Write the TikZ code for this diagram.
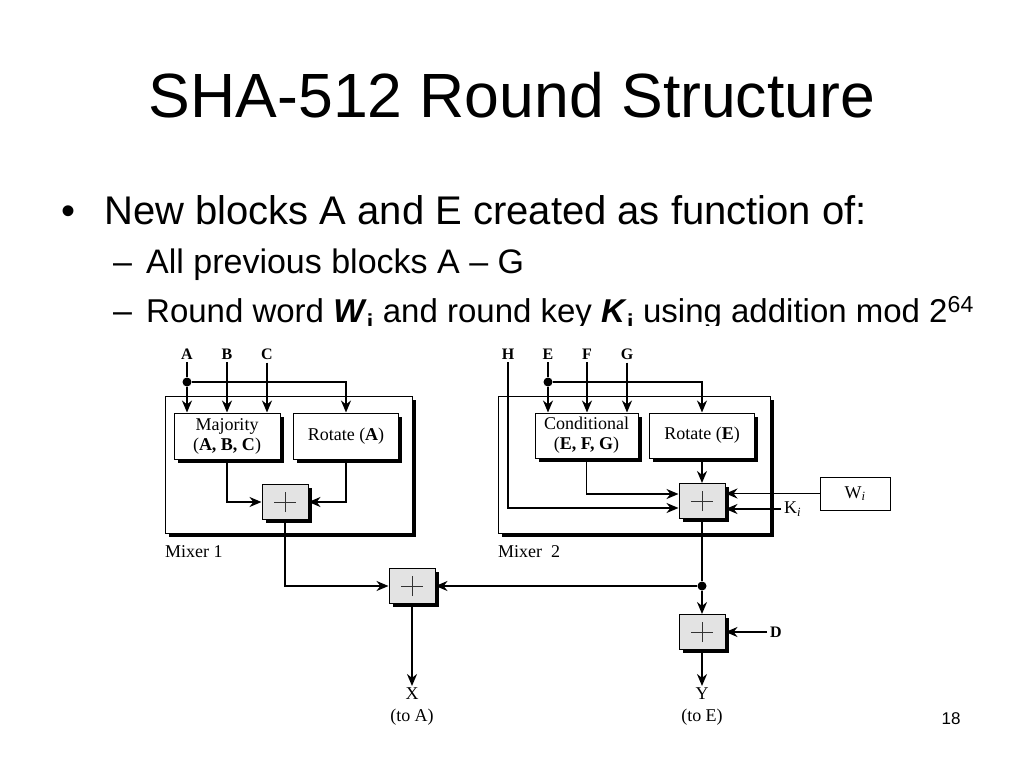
\documentclass[tikz,border=0pt]{standalone}
\usepackage{fontspec}
\setmainfont{Liberation Sans}
\newfontfamily\diagfont{Liberation Serif}
\usetikzlibrary{arrows.meta,shadows}

\newcommand{\pxfont}[2]{\fontsize{#1}{#2}\selectfont}

\begin{document}
\begin{tikzpicture}[x=1pt, y=-1pt,
    every node/.style={inner sep=0pt},
    arr/.style={-{Stealth[length=12pt,width=10pt]}, line width=1.7pt},
    wire/.style={line width=1.7pt},
    boxshadow/.style={drop shadow={shadow xshift=3.5pt, shadow yshift=-3.5pt, fill=black, opacity=1}},
    fbox/.style={draw, line width=1pt, fill=white, boxshadow, align=center, font=\diagfont\pxfont{18}{20}},
    addbox/.style={draw, line width=1pt, fill=gray!22, boxshadow, minimum width=46pt, minimum height=35pt,
      path picture={\draw[line width=0.7pt, black!80]
        ([xshift=-11pt]path picture bounding box.center) -- ([xshift=11pt]path picture bounding box.center)
        ([yshift=-10pt]path picture bounding box.center) -- ([yshift=10pt]path picture bounding box.center);}},
    inlbl/.style={font=\diagfont\bfseries\pxfont{16}{18}, inner sep=3pt},
    dlbl/.style={font=\diagfont\pxfont{18}{22}, align=center, inner sep=2pt},
    dot/.style={circle, fill=black, minimum size=9pt}]
  \useasboundingbox (0,0) rectangle (1024,768);

  % Slide title and bullets
  \node[anchor=base, font=\pxfont{62.5}{70}] (title) at (512,117) {SHA-512 Round Structure};
  \node[anchor=base, font=\pxfont{40}{48}] (bul) at (69,224) {•};
  \node[anchor=base west, font=\pxfont{40}{48}] (line1) at (104,224) {New blocks A and E created as function of:};
  \node[anchor=base west, font=\pxfont{34}{40}] (dash1) at (113,273) {–};
  \node[anchor=base west, font=\pxfont{34}{40}] (line2) at (146,273) {All previous blocks A – G};
  \node[anchor=base west, font=\pxfont{34}{40}] (dash2) at (113,322) {–};
  \node[anchor=base west, font=\pxfont{33}{40}] (line3) at (146,322)
    {Round word \textbf{\textit{W}}\textsubscript{\textbf{i}} and round key \textbf{\textit{K}}\textsubscript{\textbf{i}} using addition mod 2\textsuperscript{64}};
  \node[anchor=base, font=\pxfont{17}{20}] (pnum) at (951,724) {18};

  % The figure covers the bottom of the last line
  \fill[white] (140,326) rectangle (912,745);

  % Mixer frames
  \node[fbox, minimum width=247pt, minimum height=137pt] (mix1) at (288.5,464.5) {};
  \node[fbox, minimum width=272pt, minimum height=137pt] (mix2) at (634,464.5) {};
  \node[dlbl, anchor=west] (mix1lbl) at (163,552) {Mixer 1};
  \node[dlbl, anchor=west] (mix2lbl) at (496,552) {Mixer\ \ 2};

  % Function boxes
  \node[fbox, minimum width=106pt, minimum height=46pt] (maj) at (227,436) {Majority\\(\textbf{A, B, C})};
  \node[fbox, minimum width=105pt, minimum height=46pt] (rota) at (346,436) {Rotate (\textbf{A})};
  \node[fbox, minimum width=103pt, minimum height=45pt] (cond) at (586.5,435.5) {Conditional\\(\textbf{E, F, G})};
  \node[fbox, minimum width=105pt, minimum height=45pt] (rote) at (702,435.5) {Rotate (\textbf{E})};
  \node[draw, line width=1pt, minimum width=70pt, minimum height=33pt, font=\diagfont\pxfont{18}{20}] (wi) at (855,493.5) {W\textsubscript{\textit{i}}};

  % Adders
  \node[addbox] (add1) at (285,502) {};
  \node[addbox] (add2) at (702,501) {};
  \node[addbox] (add3) at (412,586) {};
  \node[addbox] (add4) at (702,632) {};

  % Inputs
  \foreach \n/\x in {A/187, B/227, C/267, H/508, E/548, F/587, G/627}
    \node[inlbl] (in\n) at (\x,354) {\n};
  \node[dot] (dota) at (187,382) {};
  \node[dot] (dote) at (548,382) {};
  \node[dot] (doty) at (702,586) {};
  \node[dlbl, anchor=west, inner sep=3pt] (ki) at (781,509) {K\textsubscript{\textit{i}}};
  \node[inlbl, anchor=west] (dd) at (767,632) {D};

  % Outputs
  \node[dlbl, anchor=north] (outx) at (412,686) {X\\(to A)};
  \node[dlbl, anchor=north] (outy) at (702,686) {Y\\(to E)};

  % Mixer 1 wiring
  \draw[wire] (inA) -- (dota);
  \draw[arr] (dota) -- (dota |- maj.north);
  \draw[arr] (dota) -| (rota.north);
  \foreach \n in {B, C}
    \draw[arr] (in\n) -- (in\n |- maj.north);
  \draw[arr] (maj.south) |- (add1.west);
  \draw[arr] (rota.south) |- (add1.east);

  % Mixer 2 wiring
  \draw[wire] (inE) -- (dote);
  \draw[arr] (dote) -- (dote |- cond.north);
  \draw[arr] (dote) -| (rote.north);
  \foreach \n in {F, G}
    \draw[arr] (in\n) -- (in\n |- cond.north);
  \draw[arr] (cond.south) |- ([yshift=7pt]add2.west);
  \draw[arr] (inH) |- ([yshift=-7pt]add2.west);
  \draw[arr] (rote.south) -- (add2.north);
  \draw[arr] (wi.west) -- (wi.west -| add2.east);
  \draw[arr] (ki.west) -- (ki.west -| add2.east);

  % Final additions
  \draw[arr] (add1.south) |- (add3.west);
  \draw[wire] (add2.south) -- (doty);
  \draw[arr] (doty) -- (doty -| add3.east);
  \draw[arr] (doty) -- (add4.north);
  \draw[arr] (dd.west) -- (add4.east);
  \draw[arr] (add3.south) -- (outx.north);
  \draw[arr] (add4.south) -- (outy.north);
\end{tikzpicture}
\end{document}
